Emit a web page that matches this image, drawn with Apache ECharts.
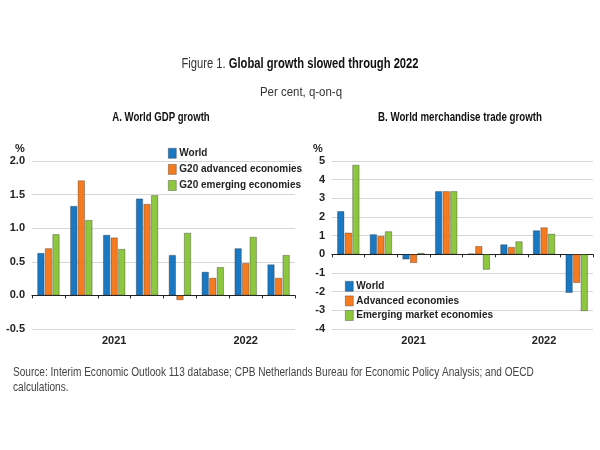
<!DOCTYPE html>
<html>
<head>
<meta charset="utf-8">
<script src="https://cdn.jsdelivr.net/npm/echarts@6/dist/echarts.min.js"></script>
<style>html,body{margin:0;padding:0;background:#fff;}#c{width:600px;height:450px;}</style>
</head>
<body>
<div id="c"></div>
<script>
// ---- Data ----
const quarters = ['2021 Q1','2021 Q2','2021 Q3','2021 Q4','2022 Q1','2022 Q2','2022 Q3','2022 Q4'];
const yearLabels = ['', '', '2021', '', '', '', '2022', ''];

const gdpNames = ['World', 'G20 advanced economies', 'G20 emerging economies'];
const gdpWorld    = [0.63, 1.33, 0.90, 1.44, 0.60, 0.35, 0.70, 0.46];
const gdpAdvanced = [0.70, 1.71, 0.86, 1.36, -0.07, 0.26, 0.48, 0.26];
const gdpEmerging = [0.91, 1.12, 0.69, 1.49, 0.93, 0.42, 0.87, 0.60];

const tradeNames = ['World', 'Advanced economies', 'Emerging market economies'];
const tradeWorld    = [2.31, 1.07, -0.27, 3.38, 0.04, 0.53, 1.28, -2.06];
const tradeAdvanced = [1.16, 0.98, -0.46, 3.38, 0.44, 0.39, 1.44, -1.53];
const tradeEmerging = [4.79, 1.23, 0.07, 3.38, -0.82, 0.69, 1.10, -3.04];

const gdpTicks = { min: -0.5, max: 2.0, interval: 0.5 };
const tradeTicks = { min: -4, max: 5, interval: 1 };

// ---- Styles ----
const colors = ['#1a78c2', '#f47b20', '#8dc63f'];
const font = "'Liberation Sans', Arial, sans-serif";
const textCol = '#222';

function yAxis(gi, t, dec) {
  return {
    type: 'value', gridIndex: gi, min: t.min, max: t.max, interval: t.interval,
    axisLine: { show: false }, axisTick: { show: false },
    axisLabel: { color: textCol, fontFamily: font, fontWeight: 'bold', fontSize: 11, margin: 7,
      formatter: v => dec ? v.toFixed(1) : String(v) },
    splitLine: { lineStyle: { color: '#d6d6d6', width: 1 } }
  };
}
function xAxes(gi) {
  return [
    { type: 'category', gridIndex: gi, data: quarters, position: 'bottom',
      axisLine: { onZero: true, lineStyle: { color: '#222', width: 1 } },
      axisTick: { show: true, interval: 0, length: 3, lineStyle: { color: '#222' } },
      axisLabel: { show: false }, splitLine: { show: false } },
    { type: 'category', gridIndex: gi, data: yearLabels, position: 'bottom',
      axisLine: { show: false, onZero: false }, axisTick: { show: false },
      axisLabel: { interval: 0, color: textCol, fontFamily: font, fontWeight: 'bold', fontSize: 11, margin: 6 } }
  ];
}
function bars(names, arrs, xi, yi) {
  return arrs.map((d, i) => ({
    type: 'bar', name: names[i], data: d, xAxisIndex: xi, yAxisIndex: yi,
    barWidth: 7, barGap: '8%',
    itemStyle: { color: colors[i], borderColor: 'rgba(30,30,30,0.55)', borderWidth: 0.6 },
    emphasis: { disabled: true }
  }));
}
const legendBase = {
  orient: 'vertical', itemWidth: 8, itemHeight: 10,
  icon: 'rect', selectedMode: false,
  textStyle: { color: textCol, fontFamily: font, fontWeight: 'bold', fontSize: 10, padding: [0, 0, 0, -2] },
  itemStyle: { borderColor: 'rgba(30,30,30,0.55)', borderWidth: 0.6 }
};

function txt(x, y, sx, style) {
  return { type: 'text', x: x, y: y, scaleX: sx, silent: true,
    style: Object.assign({ align: 'center', verticalAlign: 'middle' }, style) };
}

const chart = echarts.init(document.getElementById('c'), null, { renderer: 'canvas' });
chart.setOption({
  backgroundColor: '#fff',
  animation: false,
  grid: [
    { left: 32, right: 305, top: 161, bottom: 121, containLabel: false },
    { left: 332, right: 7, top: 161, bottom: 121, containLabel: false }
  ],
  xAxis: [...xAxes(0), ...xAxes(1)],
  yAxis: [yAxis(0, gdpTicks, true), yAxis(1, tradeTicks, false)],
  legend: [
    Object.assign({}, legendBase, { data: gdpNames, left: 163, top: 143, itemGap: 5.5 }),
    Object.assign({}, legendBase, { data: tradeNames, left: 340, top: 276, itemGap: 4 })
  ],
  series: [
    ...bars(gdpNames, [gdpWorld, gdpAdvanced, gdpEmerging], 0, 0),
    ...bars(tradeNames, [tradeWorld, tradeAdvanced, tradeEmerging], 2, 1)
  ],
  graphic: [
    txt(300, 64, 0.8, { text: '{n|Figure 1. }{b|Global growth slowed through 2022}',
      rich: { n: { font: '14px ' + font, fill: '#333' }, b: { font: 'bold 14px ' + font, fill: '#111' } } }),
    txt(301, 92, 0.88, { text: 'Per cent, q-on-q', font: '13px ' + font, fill: '#333' }),
    txt(161, 118, 0.8, { text: 'A. World GDP growth', font: 'bold 12px ' + font, fill: '#111' }),
    txt(460, 118, 0.81, { text: 'B. World merchandise trade growth', font: 'bold 12px ' + font, fill: '#111' }),
    { type: 'text', left: 15, top: 143, style: { text: '%', fill: textCol, font: 'bold 11px ' + font } },
    { type: 'text', left: 313, top: 143, style: { text: '%', fill: textCol, font: 'bold 11px ' + font } },
    { type: 'text', x: 13, y: 365, scaleX: 0.84, silent: true, style: {
        text: 'Source: Interim Economic Outlook 113 database; CPB Netherlands Bureau for Economic Policy Analysis; and OECD\ncalculations.',
        fill: '#444', font: '12px ' + font, lineHeight: 15 } }
  ]
});
</script>
</body>
</html>
